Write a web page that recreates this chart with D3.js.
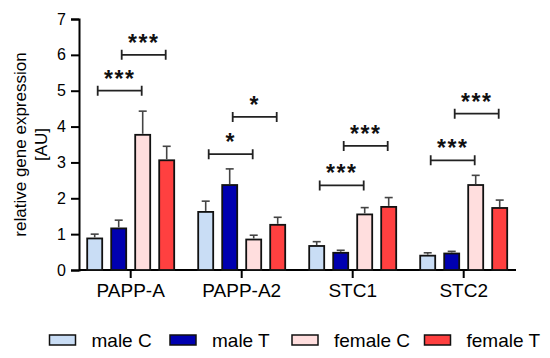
<!DOCTYPE html>
<html>
<head>
<meta charset="utf-8">
<style>
  body { margin: 0; background: #fff; }
  svg { display: block; font-family: Arial, "Liberation Sans", sans-serif; }
</style>
</head>
<body>
<div id="chart"></div>
<script src="https://cdn.jsdelivr.net/npm/d3@7"></script>
<script>
// data
var genes = ["PAPP-A", "PAPP-A2", "STC1", "STC2"];
var groups = ["male C", "male T", "female C", "female T"];
var groupColors = ["#c9ddf5", "#0000b0", "#ffdede", "#ff4040"];

// mean values, one array per group, in gene order
var maleC   = [0.88, 1.62, 0.67, 0.40];
var maleT   = [1.16, 2.37, 0.48, 0.46];
var femaleC = [3.77, 0.85, 1.55, 2.37];
var femaleT = [3.06, 1.26, 1.76, 1.73];

// upper error bar ends (mean + SEM)
var maleCErr   = [1.00, 1.92, 0.79, 0.48];
var maleTErr   = [1.39, 2.82, 0.55, 0.52];
var femaleCErr = [4.43, 0.97, 1.74, 2.64];
var femaleTErr = [3.45, 1.47, 2.02, 1.95];

// significance brackets
var sigGene  = ["PAPP-A", "PAPP-A", "PAPP-A2", "PAPP-A2", "STC1", "STC1", "STC2", "STC2"];
var sigFrom  = ["male C", "male T", "male C", "male T", "male C", "male T", "male C", "male T"];
var sigTo    = ["female C", "female T", "female C", "female T", "female C", "female T", "female C", "female T"];
var sigLevel = [5.0, 6.0, 3.23, 4.27, 2.36, 3.46, 3.06, 4.36];
var sigText  = ["***", "***", "*", "*", "***", "***", "***", "***"];

var yTicks = [0, 1, 2, 3, 4, 5, 6, 7];

var means = [maleC, maleT, femaleC, femaleT];
var errs = [maleCErr, maleTErr, femaleCErr, femaleTErr];

var rows = [];
genes.forEach(function(g, i) {
    groups.forEach(function(s, j) {
        rows.push({gene: g, group: s, value: means[j][i], err: errs[j][i], color: groupColors[j]});
    });
});

var width = 550, height = 358;
var plotLeft = 79, plotRight = 516, plotTop = 19, plotBottom = 270;

var svg = d3.select("#chart").append("svg")
    .attr("width", width)
    .attr("height", height);

var yScale = d3.scaleLinear().domain([0, 7]).range([plotBottom, plotTop]);

var xScale = d3.scaleBand().domain(genes).range([75.2, 519.2]).padding(0);

var inner = d3.scaleBand().domain(groups)
    .range([-48, 48])
    .paddingInner(0.375)
    .paddingOuter(0.1875);

function barCenter(gene, group) {
    return xScale(gene) + xScale.bandwidth() / 2 + inner(group) + inner.bandwidth() / 2;
}

// y axis
var yAxis = svg.append("g")
    .attr("transform", "translate(" + plotLeft + ",0)")
    .call(d3.axisLeft(yScale).tickValues(yTicks).tickFormat(d3.format("d")).tickSizeOuter(0).tickSize(8).tickPadding(5));
yAxis.select(".domain").attr("stroke-width", 2);
yAxis.selectAll(".tick line").attr("stroke-width", 2);
yAxis.selectAll("text").attr("font-size", 16).attr("fill", "#000")
    .attr("font-family", "Arial, 'Liberation Sans', sans-serif");

// x axis
var xAxis = svg.append("g")
    .attr("transform", "translate(0," + plotBottom + ")")
    .call(d3.axisBottom(xScale).tickSize(8).tickSizeOuter(0).tickPadding(6));
xAxis.select(".domain").attr("d", "M" + plotLeft + ",0H" + plotRight).attr("stroke-width", 2);
xAxis.selectAll(".tick line").attr("stroke-width", 2);
xAxis.selectAll("text").attr("font-size", 19).attr("fill", "#000")
    .attr("font-family", "Arial, 'Liberation Sans', sans-serif");

// bars
svg.append("g").selectAll("rect")
    .data(rows)
    .join("rect")
    .attr("x", function(d) { return barCenter(d.gene, d.group) - inner.bandwidth() / 2; })
    .attr("y", function(d) { return yScale(d.value); })
    .attr("width", inner.bandwidth())
    .attr("height", function(d) { return yScale(0) - yScale(d.value); })
    .attr("fill", function(d) { return d.color; })
    .attr("stroke", "#111")
    .attr("stroke-width", 1.8);

// error bars (upper only)
var eb = svg.append("g").attr("stroke", "#444").attr("stroke-width", 1.6);
eb.selectAll("line.v")
    .data(rows)
    .join("line")
    .attr("class", "v")
    .attr("x1", function(d) { return barCenter(d.gene, d.group); })
    .attr("x2", function(d) { return barCenter(d.gene, d.group); })
    .attr("y1", function(d) { return yScale(d.value) - 1; })
    .attr("y2", function(d) { return yScale(d.err); });
eb.selectAll("line.cap")
    .data(rows)
    .join("line")
    .attr("class", "cap")
    .attr("x1", function(d) { return barCenter(d.gene, d.group) - 4; })
    .attr("x2", function(d) { return barCenter(d.gene, d.group) + 4; })
    .attr("y1", function(d) { return yScale(d.err); })
    .attr("y2", function(d) { return yScale(d.err); });

// significance brackets
var sig = sigGene.map(function(g, i) {
    return {
        x1: barCenter(g, sigFrom[i]) + 3,
        x2: barCenter(g, sigTo[i]) - 1,
        y: yScale(sigLevel[i]),
        text: sigText[i]
    };
});
var sg = svg.append("g").selectAll("g").data(sig).join("g");
sg.append("path")
    .attr("d", function(d) {
        return "M" + d.x1 + "," + (d.y - 5) + "V" + (d.y + 5) +
               "M" + d.x1 + "," + d.y + "H" + d.x2 +
               "M" + d.x2 + "," + (d.y - 5) + "V" + (d.y + 5);
    })
    .attr("fill", "none")
    .attr("stroke", "#222")
    .attr("stroke-width", 1.8);
sg.append("text")
    .attr("x", function(d) { return (d.x1 + d.x2) / 2; })
    .attr("y", function(d) { return d.y - 4; })
    .attr("text-anchor", "middle")
    .attr("font-size", 23)
    .attr("font-weight", "bold")
    .attr("letter-spacing", 1.5)
    .attr("fill", "#111")
    .text(function(d) { return d.text; });

// y axis title
var yTitle = svg.append("text")
    .attr("transform", "translate(25.5," + ((plotTop + plotBottom) / 2 + 0) + ") rotate(-90)")
    .attr("text-anchor", "middle")
    .attr("font-size", 17);
yTitle.append("tspan").attr("x", 0).attr("y", 0).text("relative gene expression");
yTitle.append("tspan").attr("x", 0).attr("y", 21).text("[AU]");

// legend
var legendX = [49.5, 170, 292, 424.5];
var lg = svg.append("g").selectAll("g")
    .data(groups)
    .join("g")
    .attr("transform", function(d, i) { return "translate(" + legendX[i] + ",335)"; });
lg.append("rect")
    .attr("width", 26)
    .attr("height", 10)
    .attr("fill", function(d, i) { return groupColors[i]; })
    .attr("stroke", "#111")
    .attr("stroke-width", 1.5);
lg.append("text")
    .attr("x", 42)
    .attr("y", 12)
    .attr("font-size", 19)
    .text(function(d) { return d; });
</script>
</body>
</html>
